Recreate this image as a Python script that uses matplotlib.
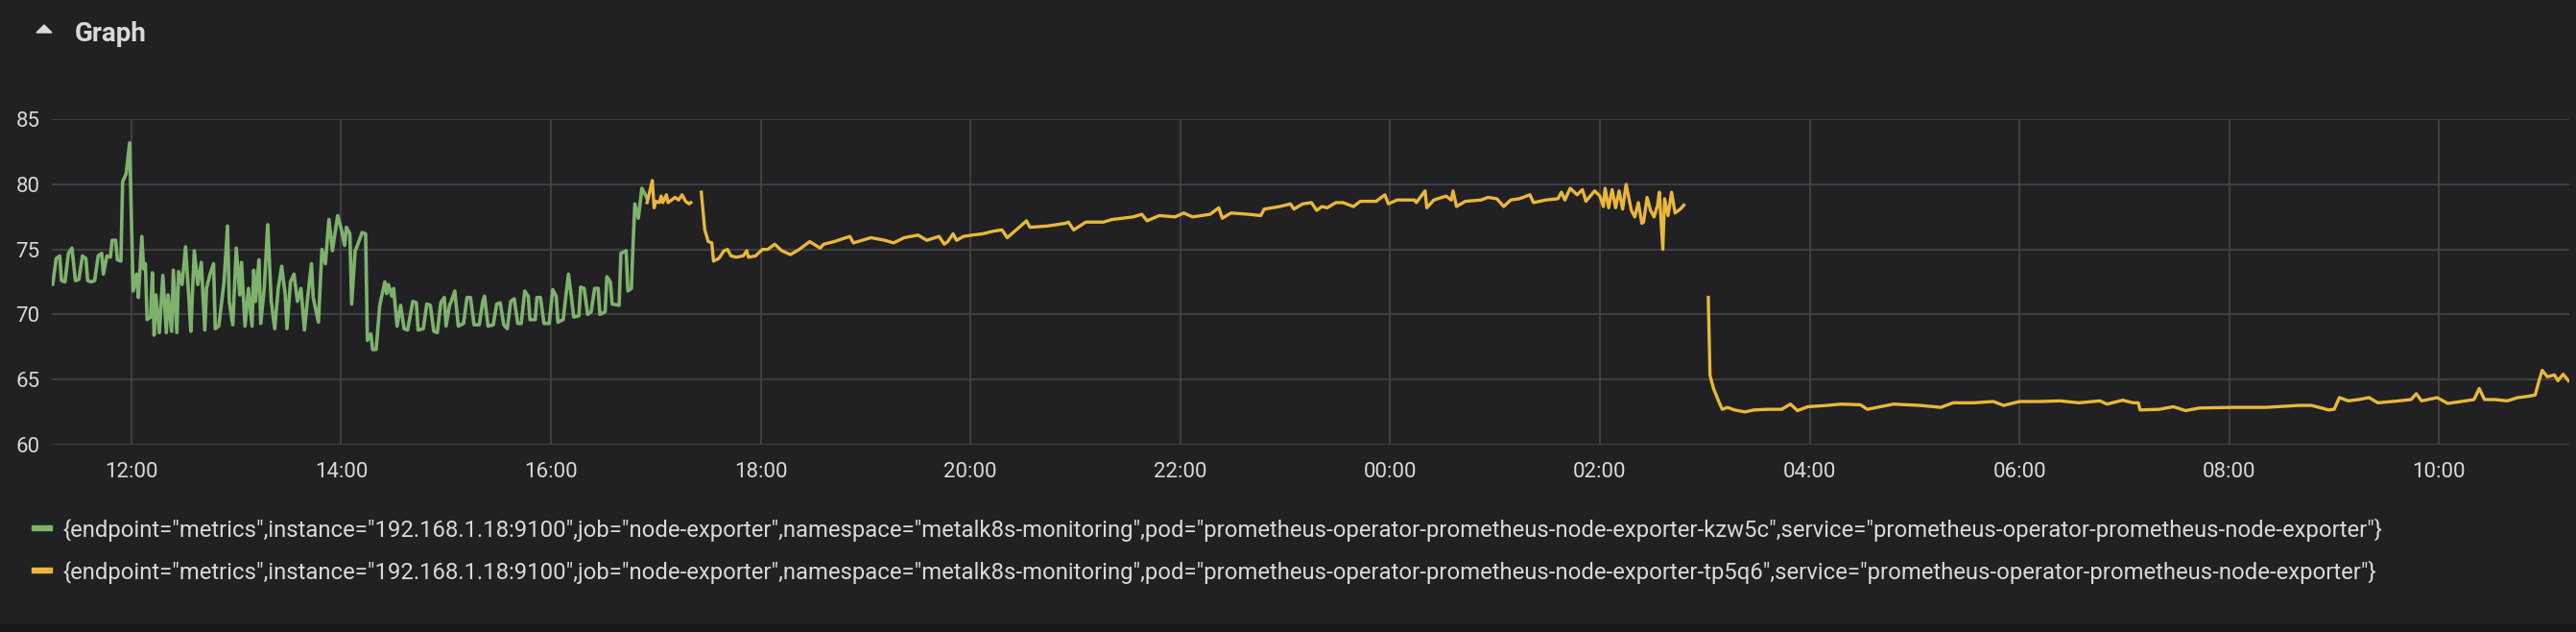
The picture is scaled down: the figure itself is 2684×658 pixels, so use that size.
import pandas as pd
import numpy as np
import matplotlib
matplotlib.use("Agg")
import matplotlib.pyplot as plt
import matplotlib.dates as mdates
from matplotlib.patches import Rectangle, Polygon

# Series (clock time, value); None = gap in scrape
green_times = [
    "11:14", "11:15", "11:17", "11:19", "11:20", "11:22", "11:24", "11:26", "11:28", "11:30",
    "11:32", "11:34", "11:35", "11:37", "11:39", "11:41", "11:43", "11:44", "11:46", "11:48",
    "11:49", "11:51", "11:52", "11:54", "11:55", "11:57", "11:59",
    "12:01", "12:03", "12:04", "12:06", "12:07", "12:08", "12:09", "12:11", "12:12", "12:13",
    "12:14", "12:16", "12:18", "12:20", "12:21", "12:23", "12:24", "12:26", "12:27", "12:29",
    "12:31", "12:33", "12:34", "12:36", "12:38", "12:40", "12:42", "12:43", "12:45", "12:47",
    "12:48", "12:50", "12:53", "12:55", "12:56", "12:58",
    "13:00", "13:02", "13:03", "13:05", "13:07", "13:09", "13:10", "13:11", "13:13", "13:14",
    "13:16", "13:18", "13:20", "13:22", "13:24", "13:26", "13:28", "13:29", "13:31", "13:33",
    "13:35", "13:37", "13:39", "13:41", "13:43", "13:44", "13:47", "13:49", "13:51", "13:53",
    "13:55", "13:58",
    "14:00", "14:02", "14:03", "14:05", "14:06", "14:08", "14:09", "14:12", "14:14", "14:15",
    "14:17", "14:18", "14:20", "14:22", "14:23", "14:25", "14:26", "14:27", "14:29", "14:30",
    "14:32", "14:34", "14:36", "14:38", "14:41", "14:43", "14:44", "14:47", "14:49", "14:51",
    "14:53", "14:55", "14:57", "14:59",
    "15:00", "15:02", "15:03", "15:05", "15:07", "15:10", "15:12", "15:14", "15:16", "15:19",
    "15:21", "15:22", "15:24", "15:27", "15:29", "15:31", "15:33", "15:35", "15:37", "15:39",
    "15:41", "15:43", "15:45", "15:47", "15:48", "15:51", "15:52", "15:54", "15:56", "15:59",
    "16:01", "16:03", "16:04", "16:07", "16:10", "16:12", "16:13", "16:16", "16:17", "16:19",
    "16:21", "16:23", "16:25", "16:27", "16:28", "16:31", "16:32", "16:34", "16:35", "16:39",
    "16:40", "16:43", "16:44", "16:46", "16:47", "16:48", "16:50", "16:52", "16:54", "16:55",
]
green_values = [
    72.3, 72.3, 74.3, 74.5, 72.6, 72.5, 74.7, 75.1, 72.6, 72.7,
    74.5, 74.3, 72.6, 72.5, 72.6, 74.5, 74.7, 73.1, 74.5, 74.4,
    75.7, 75.7, 74.2, 74.1, 80.2, 80.8, 83.2,
    71.8, 73.1, 71.3, 76.0, 73.5, 73.9, 69.6, 69.8, 73.2, 68.4,
    71.5, 68.6, 73.0, 68.6, 71.5, 68.7, 73.4, 68.6, 73.3, 72.3,
    75.2, 71.0, 68.7, 74.9, 72.3, 74.0, 68.8, 72.0, 73.1, 73.9,
    68.9, 69.1, 72.5, 76.8, 71.0, 69.2,
    75.1, 71.5, 74.0, 69.1, 72.0, 69.1, 73.4, 71.0, 74.2, 69.3,
    72.0, 76.9, 71.0, 68.9, 72.0, 73.7, 71.5, 68.9, 72.5, 73.1,
    71.0, 72.0, 68.8, 71.5, 73.9, 71.3, 69.4, 75.0, 73.9, 77.3,
    74.9, 77.6,
    76.6, 75.3, 76.7, 76.2, 70.8, 74.9, 75.2, 76.3, 76.2, 68.0,
    68.5, 67.3, 67.3, 70.6, 71.3, 72.5, 71.6, 72.3, 71.4, 72.0,
    69.1, 70.7, 68.9, 68.8, 71.0, 70.9, 68.8, 68.9, 70.8, 70.7,
    68.7, 68.6, 70.9, 71.3,
    69.1, 70.7, 71.0, 71.8, 69.1, 69.3, 71.3, 71.3, 69.2, 69.2,
    71.0, 71.4, 69.1, 69.2, 70.8, 70.9, 69.2, 68.9, 71.0, 71.2,
    69.3, 69.3, 71.8, 71.4, 69.6, 69.6, 71.3, 71.3, 69.3, 69.3,
    71.9, 71.4, 69.4, 69.6, 73.1, 71.0, 69.8, 69.9, 72.1, 72.0,
    70.0, 70.2, 72.0, 72.0, 70.0, 70.2, 72.9, 72.5, 70.8, 70.7,
    74.7, 74.9, 71.8, 72.0, 75.5, 78.5, 77.4, 79.7, 79.2, 78.9,
]

yellow_times = [
    "16:55", "16:58", "16:59", "17:00", "17:02", "17:03", "17:04", "17:06", "17:07", "17:09",
    "17:11", "17:13", "17:15", "17:17", "17:19", "17:20", "17:23",
    "17:26", "17:28", "17:30", "17:32", "17:33", "17:36", "17:39", "17:41", "17:43", "17:46",
    "17:50", "17:52", "17:53", "17:57", "18:01", "18:04", "18:08", "18:12", "18:17", "18:22",
    "18:28", "18:34", "18:36", "18:42", "18:51", "18:53", "19:03", "19:11", "19:16", "19:22",
    "19:30", "19:35", "19:42", "19:45", "19:47", "19:50", "19:52", "19:56", "20:01", "20:07",
    "20:13", "20:18", "20:21", "20:27", "20:32", "20:34", "20:44", "20:54", "20:56", "20:59",
    "21:06", "21:16", "21:21", "21:33", "21:38", "21:41", "21:48", "21:57", "22:02", "22:07",
    "22:17", "22:22", "22:24", "22:29", "22:39", "22:46", "22:48", "22:57", "23:03", "23:05",
    "23:10", "23:15", "23:18", "23:21", "23:24", "23:29", "23:33", "23:39", "23:43", "23:52",
    "23:57", "23:59", "00:04", "00:14", "00:15", "00:20", "00:21", "00:25", "00:32", "00:35",
    "00:36", "00:38", "00:43", "00:52", "00:56", "01:01", "01:05", "01:09", "01:14", "01:20",
    "01:22", "01:29", "01:36", "01:38", "01:40", "01:43", "01:47", "01:50", "01:52", "01:57",
    "02:00", "02:02", "02:03", "02:05", "02:07", "02:09", "02:11", "02:13", "02:15", "02:18",
    "02:20", "02:22", "02:24", "02:25", "02:27", "02:29", "02:31", "02:33", "02:34", "02:36",
    "02:37", "02:39", "02:41", "02:43", "02:46", "02:48", "02:55",
    "03:02", "03:03", "03:05", "03:08", "03:10", "03:13", "03:17", "03:23", "03:28", "03:36",
    "03:44", "03:49", "03:53", "03:59", "04:10", "04:18", "04:29", "04:33", "04:48", "05:03",
    "05:15", "05:22", "05:34", "05:45", "05:51", "06:00", "06:12", "06:23", "06:34", "06:46",
    "06:50", "06:59", "07:05", "07:08", "07:09", "07:20", "07:28", "07:35", "07:43", "08:02",
    "08:21", "08:40", "08:47", "08:57", "09:00", "09:03", "09:08", "09:14", "09:20", "09:25",
    "09:37", "09:44", "09:47", "09:50", "09:59", "10:05", "10:15", "10:20", "10:23", "10:26",
    "10:32", "10:39", "10:45", "10:51", "10:55", "10:57", "10:59", "11:02", "11:06", "11:08",
    "11:11", "11:14",
]
yellow_values = [
    78.6, 80.3, 78.2, 78.7, 78.6, 79.1, 78.6, 79.2, 78.6, 78.8,
    79.0, 78.8, 79.2, 78.7, 78.5, 78.6, None,
    79.4, 76.5, 75.6, 75.5, 74.1, 74.3, 74.9, 75.0, 74.5, 74.4,
    74.5, 74.9, 74.4, 74.5, 75.0, 75.0, 75.4, 74.9, 74.6, 75.0,
    75.6, 75.1, 75.4, 75.6, 76.0, 75.5, 75.9, 75.7, 75.5, 75.9,
    76.1, 75.7, 76.0, 75.4, 75.6, 76.2, 75.7, 76.0, 76.1, 76.2,
    76.4, 76.5, 75.9, 76.6, 77.2, 76.7, 76.8, 77.0, 77.1, 76.5,
    77.1, 77.1, 77.3, 77.5, 77.7, 77.2, 77.6, 77.5, 77.8, 77.5,
    77.7, 78.2, 77.4, 77.8, 77.7, 77.6, 78.1, 78.3, 78.5, 78.1,
    78.5, 78.6, 78.0, 78.3, 78.2, 78.6, 78.6, 78.3, 78.7, 78.7,
    79.2, 78.5, 78.8, 78.8, 78.6, 79.5, 78.2, 78.8, 79.1, 78.8,
    79.5, 78.3, 78.7, 78.8, 79.0, 78.9, 78.3, 78.8, 78.9, 79.2,
    78.6, 78.8, 78.9, 79.4, 78.8, 79.7, 79.2, 79.6, 78.7, 79.5,
    79.1, 78.3, 79.7, 78.2, 79.6, 78.2, 79.5, 78.1, 80.0, 78.0,
    77.5, 78.6, 77.0, 77.1, 79.0, 78.0, 77.5, 78.4, 79.4, 75.0,
    78.9, 77.6, 79.4, 77.8, 78.1, 78.4, None,
    71.3, 65.3, 64.3, 63.3, 62.7, 62.85, 62.65, 62.5, 62.65, 62.7,
    62.7, 63.1, 62.6, 62.9, 63.0, 63.1, 63.05, 62.7, 63.1, 63.0,
    62.85, 63.2, 63.2, 63.3, 63.0, 63.3, 63.3, 63.35, 63.2, 63.35,
    63.1, 63.4, 63.2, 63.2, 62.65, 62.7, 62.9, 62.6, 62.8, 62.85,
    62.85, 63.0, 63.0, 62.65, 62.7, 63.6, 63.35, 63.45, 63.6, 63.2,
    63.35, 63.45, 63.9, 63.35, 63.6, 63.15, 63.35, 63.45, 64.3, 63.45,
    63.45, 63.35, 63.6, 63.7, 63.8, 64.8, 65.7, 65.2, 65.35, 64.9,
    65.4, 64.9,
]

y_ticks = [60, 65, 70, 75, 80, 85]

label_a = ('{endpoint="metrics",instance="192.168.1.18:9100",job="node-exporter",'
           'namespace="metalk8s-monitoring",pod="prometheus-operator-prometheus-node-exporter-kzw5c",'
           'service="prometheus-operator-prometheus-node-exporter"}')
label_b = ('{endpoint="metrics",instance="192.168.1.18:9100",job="node-exporter",'
           'namespace="metalk8s-monitoring",pod="prometheus-operator-prometheus-node-exporter-tp5q6",'
           'service="prometheus-operator-prometheus-node-exporter"}')

start = pd.Timestamp("2019-06-12 11:14:30")
end = pd.Timestamp("2019-06-13 11:14:30")


def to_datetimes(times, day="2019-06-12"):
    # clock strings -> timestamps, rolling over midnight
    out = []
    base = pd.Timestamp(day)
    prev = None
    for t in times:
        ts = base + pd.Timedelta(hours=int(t[:2]), minutes=int(t[3:]))
        if prev is not None and ts < prev:
            base += pd.Timedelta(days=1)
            ts += pd.Timedelta(days=1)
        out.append(ts)
        prev = ts
    return out


green = pd.Series([np.nan if v is None else v for v in green_values], index=to_datetimes(green_times))
yellow = pd.Series([np.nan if v is None else v for v in yellow_values], index=to_datetimes(yellow_times))

BG = "#212124"
TXT = "#d8d9da"
GRID = "#46464a"
GREEN = "#7EB26D"
YELLOW = "#EAB839"

plt.rcParams["font.family"] = ["Roboto", "DejaVu Sans"]

W, H = 2684, 658
fig = plt.figure(figsize=(W / 100, H / 100), dpi=100, facecolor=BG)
ax = fig.add_axes([54 / W, 1 - 462.7 / H, (2677 - 54) / W, (462.7 - 124.3) / H])
ax.set_facecolor(BG)

ax.plot(green.index, green.values, color=GREEN, lw=2.6)
ax.plot(yellow.index, yellow.values, color=YELLOW, lw=2.4)

ax.set_xlim(start, end)
ax.set_ylim(60, 85)
ax.set_yticks(y_ticks)
ax.xaxis.set_major_locator(mdates.HourLocator(byhour=range(0, 24, 2)))
ax.xaxis.set_major_formatter(mdates.DateFormatter("%H:%M"))
ax.grid(True, color=GRID, lw=1.2)
ax.set_axisbelow(True)
for s in ax.spines.values():
    s.set_visible(False)
ax.tick_params(axis="both", length=0, colors=TXT, labelsize=16)
ax.tick_params(axis="y", pad=9)
ax.tick_params(axis="x", pad=13)

# panel header
fig.text(78 / W, 1 - 42.7 / H, "Graph", color=TXT, fontsize=20, fontweight="bold", va="baseline")
fig.patches.append(Polygon([[38 / W, 1 - 34 / H], [54 / W, 1 - 34 / H], [46 / W, 1 - 26 / H]],
                           closed=True, transform=fig.transFigure, color=TXT))

# legend
for y_mark, y_txt, col, lab in [(549.2, 551.7, GREEN, label_a), (593.3, 595.7, YELLOW, label_b)]:
    fig.patches.append(Rectangle((33 / W, 1 - (y_mark + 2.7) / H), 21 / W, 5.4 / H,
                                 transform=fig.transFigure, color=col))
    fig.text(65 / W, 1 - y_txt / H, lab, color=TXT, fontsize=17.2, va="center")

# darker strip at bottom of panel
fig.patches.append(Rectangle((0, 0), 1, 8 / H, transform=fig.transFigure, color="#161719"))

fig.savefig("out.png", dpi=100, facecolor=BG)
